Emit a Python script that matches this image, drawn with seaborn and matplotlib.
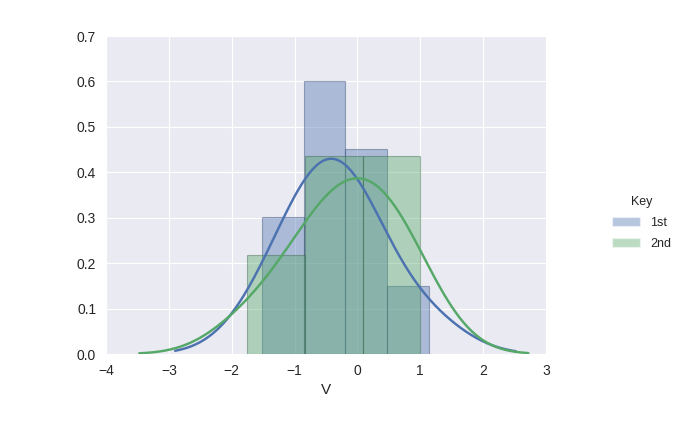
import numpy as np
import pandas as pd
import matplotlib
matplotlib.use("Agg")
import matplotlib.pyplot as plt
import matplotlib.patches as mpatches
import seaborn as sns

# ------------------------------------------------------------
# data (samples read back from the histogram bins)
# ------------------------------------------------------------
first_vals = [-1.52, -1.0, -0.84, -0.65, -0.45, -0.25, -0.15, 0.05, 0.3, 1.14]
second_vals = [-1.75, -0.95, -0.75, -0.45, -0.2, 0.05, 0.2, 0.45, 0.7, 1.0]
keys = ["1st", "2nd"]
n_bins = {"1st": 4, "2nd": 3}
colors = {"1st": "#4C72B0", "2nd": "#55A868"}
edge_colors = {"1st": (0.16, 0.25, 0.42, 0.4), "2nd": (0.18, 0.37, 0.23, 0.4)}
bw_adjust = {"1st": 1.35, "2nd": 1.2}
# where the density curves stop
kde_support = {"1st": (-2.9, 2.53), "2nd": (-3.47, 2.72)}

df = pd.DataFrame({
    "V": first_vals + second_vals,
    "Key": ["1st"] * len(first_vals) + ["2nd"] * len(second_vals),
})

# ------------------------------------------------------------
# style
# ------------------------------------------------------------
sns.set_style("darkgrid", {"axes.facecolor": "#EAEAF2", "grid.color": "white"})
plt.rcParams["font.family"] = ["Liberation Sans", "DejaVu Sans"]

fig = plt.figure(figsize=(6.85, 4.43), dpi=100)
ax = fig.add_axes([0.1547, 0.2009, 0.797 - 0.1547, 0.9187 - 0.2009])

for k in keys:
    sub = df[df["Key"] == k]
    vals = sub["V"].to_numpy()
    bw = vals.std(ddof=1) * len(vals) ** (-1 / 5) * bw_adjust[k]
    cut = (vals.min() - kde_support[k][0]) / bw
    sns.histplot(
        data=sub, x="V", bins=n_bins[k], stat="density",
        color=colors[k], alpha=0.4, edgecolor=edge_colors[k], linewidth=0.8,
        kde=True, kde_kws=dict(cut=cut, bw_adjust=bw_adjust[k]),
        line_kws=dict(linewidth=1.75),
        ax=ax,
    )
    line = ax.lines[-1]
    line.set_alpha(1)
    # trim the right end of the curve to the read-off support
    x, y = line.get_data()
    keep = x <= kde_support[k][1] + 1e-9
    line.set_data(x[keep], y[keep])

ax.set_xlim(-4, 3)
ax.set_ylim(0, 0.7)
ax.set_xticks(range(-4, 4))
ax.set_yticks(np.arange(0, 0.71, 0.1))
ax.set_xticklabels([str(t).replace("-", "\u2212") for t in range(-4, 4)])
ax.set_yticklabels([f"{t:.1f}" for t in np.arange(0, 0.71, 0.1)])
ax.tick_params(labelsize=10, length=0, pad=7)
ax.set_xlabel("V", fontsize=11, labelpad=4)
ax.set_ylabel("")
for s in ax.spines.values():
    s.set_visible(False)

handles = [mpatches.Patch(facecolor=colors[k], alpha=0.4, label=k) for k in keys]
leg = fig.legend(handles=handles, title="Key", loc="upper left",
                 bbox_to_anchor=(612 / 685, 1 - 196 / 443), frameon=False,
                 borderpad=0, borderaxespad=0,
                 fontsize=9, title_fontsize=9, handlelength=2.24,
                 handleheight=0.7, handletextpad=0.8, labelspacing=0.7)

fig.savefig("out.png", dpi=100)
